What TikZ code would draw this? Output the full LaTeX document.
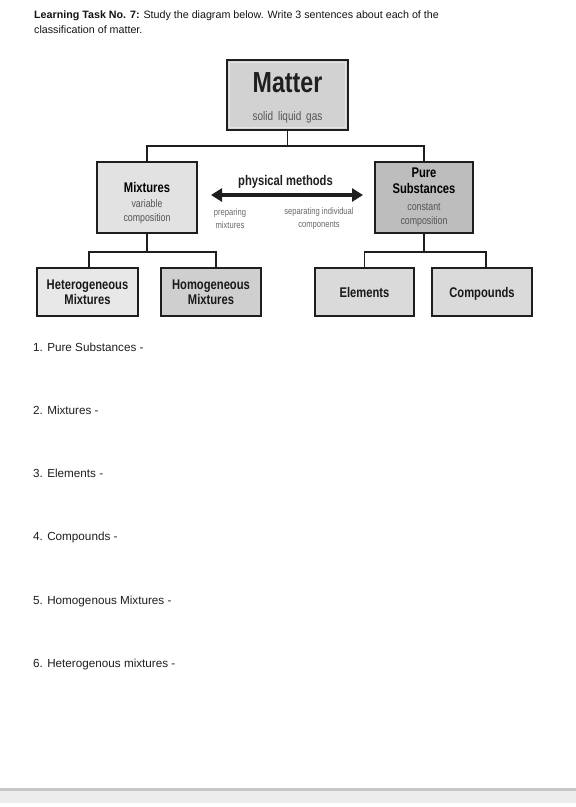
\documentclass[tikz,border=0pt]{standalone}
\usepackage{fontspec}
\setmainfont{Liberation Sans}
\newfontfamily\nar[FakeStretch=0.8]{Liberation Sans}
\usetikzlibrary{arrows.meta}
\definecolor{lineC}{HTML}{1E1E1E}
\definecolor{fMatter}{HTML}{D2D2D2}
\definecolor{fMix}{HTML}{E2E2E2}
\definecolor{fPure}{HTML}{BDBDBD}
\definecolor{fHet}{HTML}{E8E8E8}
\definecolor{fHom}{HTML}{CFCFCF}
\definecolor{fEl}{HTML}{DADADA}
\definecolor{subT}{HTML}{555555}
\definecolor{smallT}{HTML}{6A6A6A}
\begin{document}
\begin{tikzpicture}[x=1pt,y=-1pt,
  box/.style={draw=lineC,line width=1.1pt,inner sep=0pt,align=center,font=\nar\bfseries\fontsize{14}{15}\selectfont,text=black!90},
  conn/.style={draw=lineC,line width=1.5pt},
  plain/.style={inner sep=0pt,anchor=base west,font=\fontsize{11.7}{15}\selectfont,text=black!88},
  headT/.style={inner sep=0pt,anchor=base west,font=\fontsize{10.7}{15}\selectfont,text=black!92}]
\useasboundingbox (0,0) rectangle (576,807);
\fill[white] (0,0) rectangle (576,807);
% header
\node[headT] (head1) at (34,18) {\textbf{Learning Task No. 7:} Study the diagram below. Write 3 sentences about each of the};
\node[headT] (head2) at (34,33) {classification of matter.};
% boxes
\node[box,fill=fMatter,minimum width=121pt,minimum height=70pt] (matter) at (287.5,95) {};
\draw[white!80!gray,line width=1pt] ([shift={(3pt,3pt)}]matter.south west) rectangle ([shift={(-3pt,-3pt)}]matter.north east);
\node[inner sep=0pt,font=\nar\bfseries\fontsize{29}{30}\selectfont,text=black!88] (mt) at (287.5,83) {Matter};
\node[inner sep=0pt,font=\nar\fontsize{12.5}{14}\selectfont,text=subT] (slg) at (287.5,117) {solid\, liquid\, gas};
\node[box,fill=fMix,minimum width=100pt,minimum height=71pt] (mix) at (147,197.5) {};
\node[inner sep=0pt,align=center,font=\nar\bfseries\fontsize{14}{15}\selectfont] (mixt) at (147,187) {Mixtures};
\node[inner sep=0pt,align=center,font=\nar\fontsize{11}{14}\selectfont,text=subT] (mixs) at (147,211.5) {variable\\composition};
\node[box,fill=fPure,minimum width=98pt,minimum height=71pt] (pure) at (424,197.5) {};
\node[inner sep=0pt,align=center,font=\nar\bfseries\fontsize{14}{16}\selectfont] (puret) at (424,181) {Pure\\Substances};
\node[inner sep=0pt,align=center,font=\nar\fontsize{11}{13.5}\selectfont,text=subT] (pures) at (424,215) {constant\\composition};
\node[box,fill=fHet,minimum width=101pt,minimum height=48pt] (het) at (87.5,292) {Heterogeneous\\Mixtures};
\node[box,fill=fHom,minimum width=100pt,minimum height=48pt] (hom) at (211,292) {Homogeneous\\Mixtures};
\node[box,fill=fEl,minimum width=99pt,minimum height=48pt,text height=10pt,text depth=0pt] (el) at (364.5,292) {Elements};
\node[box,fill=fEl,minimum width=100pt,minimum height=48pt,text height=10pt,text depth=0pt] (comp) at (482,292) {Compounds};
% connectors
\draw[conn] (matter.south) -- (287.5,146) coordinate (j1);
\draw[conn] (mix.north) |- (j1) -| (pure.north);
\draw[conn] (mix.south) -- (147,252) coordinate (j2);
\draw[conn] ([xshift=1.5pt]het.north) |- (j2) -| ([xshift=5pt]hom.north);
\draw[conn] (pure.south) -- (424,252) coordinate (j3);
\draw[conn] (el.north) |- (j3) -| ([xshift=4pt]comp.north);
% arrow
\coordinate (aL) at (211,195);
\coordinate (aR) at (363,195);
\draw[lineC,line width=3.2pt,{Triangle[width=13pt,length=11pt]}-{Triangle[width=13pt,length=11pt]}] (aL) -- (aR);
\node[inner sep=0pt,font=\nar\bfseries\fontsize{14}{15}\selectfont,text=black!88] (pm) at (285.5,182) {physical methods};
\node[inner sep=0pt,align=center,font=\nar\fontsize{9.5}{13}\selectfont,text=smallT] (prep) at (230,218.5) {preparing\\mixtures};
\node[inner sep=0pt,align=center,font=\nar\fontsize{9.5}{13}\selectfont,text=smallT] (sep) at (319,218.5) {separating individual\\components};
% list
\node[plain] (q1) at (33,351) {1. Pure Substances -};
\node[plain] (q2) at (33,414) {2. Mixtures -};
\node[plain] (q3) at (33,477) {3. Elements -};
\node[plain] (q4) at (33,540) {4. Compounds -};
\node[plain] (q5) at (33,604) {5. Homogenous Mixtures -};
\node[plain] (q6) at (33,667) {6. Heterogenous mixtures -};
% bottom band
\fill[black!7] (0,788) rectangle (576,803);
\fill[black!22] (0,788) rectangle (576,791);
\end{tikzpicture}
\end{document}
